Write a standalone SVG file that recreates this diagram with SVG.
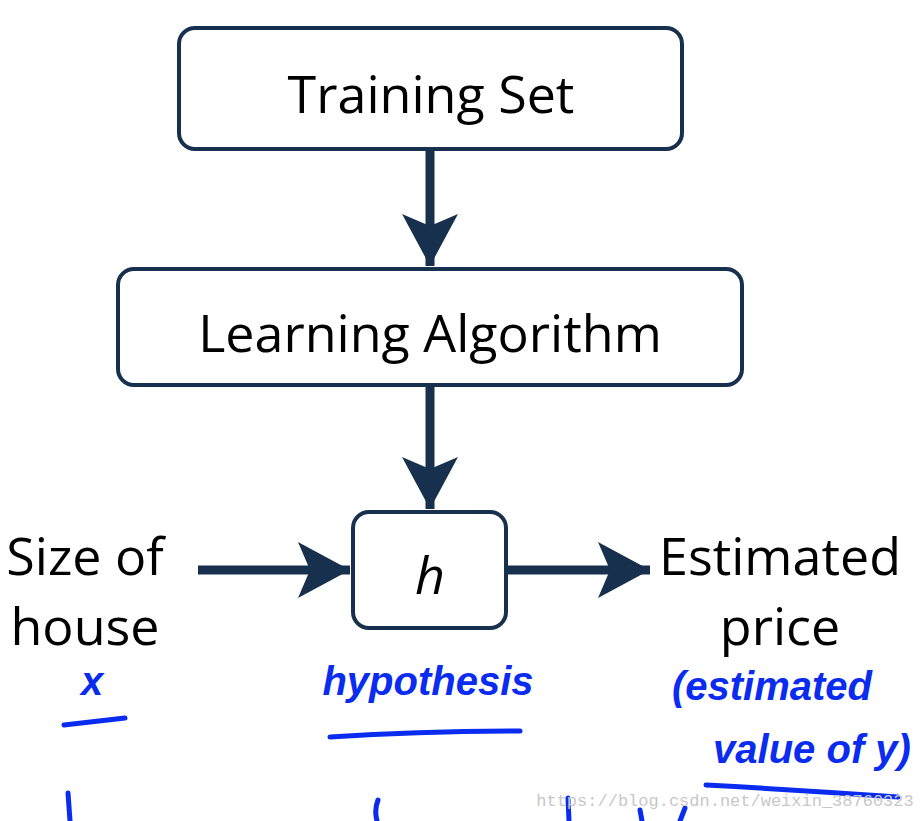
<svg xmlns="http://www.w3.org/2000/svg" width="922" height="821" viewBox="0 0 922 821">
<style>
.box{fill:#fff;stroke:#17304d;stroke-width:4}
.t{font-family:"Open Sans","Liberation Sans",sans-serif;fill:#000;font-size:52px}
.line{stroke:#17304d;stroke-width:9;fill:none}
.hw{font-family:"Liberation Sans",sans-serif;fill:#0a2cf0;font-size:40px;font-style:italic;font-weight:bold}
.ink{stroke:#0a2cf0;stroke-width:5;fill:none;stroke-linecap:round}
</style>
<defs>
<marker id="ah" markerUnits="userSpaceOnUse" markerWidth="60" markerHeight="60" refX="52" refY="28" orient="auto">
<path d="M0,0 L52,28 L0,56 L12,28 Z" fill="#17304d"/>
</marker>
</defs>
<rect width="922" height="821" fill="#fff"/>
<g id="connectors">
<line class="line" x1="430" y1="150" x2="430" y2="266" marker-end="url(#ah)"/>
<line class="line" x1="430" y1="386" x2="430" y2="509" marker-end="url(#ah)"/>
<line class="line" x1="198" y1="570" x2="350" y2="570" marker-end="url(#ah)"/>
<line class="line" x1="507" y1="570" x2="650" y2="570" marker-end="url(#ah)"/>
</g>
<g id="training"><rect class="box" x="179" y="28" width="503" height="121" rx="16"/><text class="t" x="431" y="113" text-anchor="middle">Training Set</text></g>
<g id="learning"><rect class="box" x="118" y="269" width="624" height="116" rx="16"/><text class="t" x="430" y="352" text-anchor="middle">Learning Algorithm</text></g>
<g id="h"><rect class="box" x="353" y="512" width="153" height="116" rx="16"/><text class="t" x="430" y="594" text-anchor="middle" font-style="italic">h</text></g>
<g id="size"><text class="t" x="85" y="575" text-anchor="middle">Size of</text><text class="t" x="85" y="645" text-anchor="middle">house</text></g>
<g id="price"><text class="t" x="780" y="575" text-anchor="middle">Estimated</text><text class="t" x="780" y="645" text-anchor="middle">price</text></g>
<g id="notes">
<text class="hw" x="92" y="695" text-anchor="middle">x</text>
<path class="ink" d="M64,725 L125,718"/>
<text class="hw" x="428" y="695" text-anchor="middle">hypothesis</text>
<path class="ink" d="M330,737 Q420,731 520,731"/>
<text class="hw" x="772" y="700" text-anchor="middle">(estimated</text>
<text class="hw" x="812" y="763" text-anchor="middle">value of y)</text>
<path class="ink" d="M706,785 Q800,790 898,797"/>
<path class="ink" d="M68,793 L70,821"/>
<path class="ink" d="M378,800 Q374,810 377,821"/>
<path class="ink" d="M568,798 L569,821"/>
<path class="ink" d="M640,810 L642,821"/>
<path class="ink" d="M685,808 L680,821"/>
</g>
<text x="725" y="806" text-anchor="middle" font-family="Liberation Mono,monospace" font-size="17" fill="#c8c8c8">https://blog.csdn.net/weixin_38760323</text>
</svg>
